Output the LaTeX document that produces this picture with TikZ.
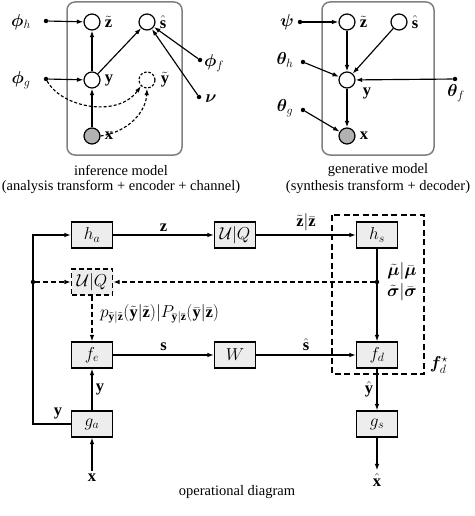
\documentclass[tikz,border=0pt]{standalone}
\usepackage{amsmath,amssymb,bm}
\usepackage{fontspec}
\setmainfont{Liberation Serif}
\usetikzlibrary{arrows.meta,calc}
\tikzset{
  var/.style={circle,draw,line width=1.2pt,minimum size=16pt,inner sep=0pt,fill=white},
  obs/.style={var,fill=black!30},
  dvar/.style={var,dash pattern=on 2.5pt off 1.8pt},
  plate/.style={draw=black!50,rounded corners=8pt,line width=1.5pt},
  dotn/.style={circle,fill,inner sep=0pt,minimum size=4.5pt},
  arr/.style={-{Latex[length=6.5pt,width=4.5pt]},line width=1.15pt},
  darr/.style={arr,dash pattern=on 5pt off 3pt},
  carr/.style={arr,dash pattern=on 3pt off 2pt},
  blk/.style={draw,fill=black!7,line width=1.15pt,minimum width=41pt,minimum height=26pt,inner sep=0pt},
  dblk/.style={blk,dash pattern=on 5pt off 3pt},
  lbl/.style={inner sep=1pt},
  smlbl/.style={inner sep=0pt,font=\fontsize{16}{18}\selectfont},
  captxt/.style={font=\fontsize{14.5}{17}\selectfont},
}
\begin{document}
\begin{tikzpicture}[x=1pt,y=-1pt,font=\fontsize{16.5}{19}\selectfont]
\path[use as bounding box,fill=white] (0,0) rectangle (474,516);

% ---------- inference model ----------
\draw[plate] (67,2) rectangle (182,155);
\node[var] (iz) at (92,22) {};
\node[var] (is) at (147,22) {};
\node[var] (iy) at (92,80) {};
\node[dvar] (iyt) at (147,80) {};
\node[obs] (ix) at (92,136) {};
\node[lbl,anchor=west] (izl) at ([xshift=3pt]iz.east) {$\tilde{\mathbf z}$};
\node[lbl,anchor=west] (isl) at ([xshift=3pt]is.east) {$\hat{\mathbf s}$};
\node[lbl,anchor=west] (iyl) at ([xshift=3pt]iy.east) {$\mathbf y$};
\node[lbl,anchor=west] (iytl) at ([xshift=4pt]iyt.east) {$\tilde{\mathbf y}$};
\node[lbl,anchor=west] (ixl) at ([xshift=3pt]ix.east) {$\mathbf x$};
\node (phih) at (21,22) {$\bm\phi_h$};
\node[dotn] (dph) at (46,21) {};
\node (phig) at (21,80) {$\bm\phi_g$};
\node[dotn] (dpg) at (46,79) {};
\node (phif) at (214,63) {$\bm\phi_f$};
\node[dotn] (dpf) at (200,60) {};
\node (nu) at (211,99) {$\bm\nu$};
\node[dotn] (dnu) at (199,97) {};
\draw[arr] (dph) -- (iz);
\draw[arr] (dpg) -- (iy);
\draw[arr] (ix) -- (iy);
\draw[arr] (iy) -- (iz);
\draw[arr] (iy) -- (is);
\draw[arr] (dpf) -- (is);
\draw[arr] (dnu) -- (is);
\draw[carr] (dpg) .. controls (62,108) and (118,118) .. (iyt.225);
\draw[carr] (ix.east) .. controls (128,132) and (146,112) .. (iyt.south);
\node[captxt] at (121,170) {inference model};
\node[captxt] at (121,187) {(analysis transform + encoder + channel)};

% ---------- generative model ----------
\draw[plate] (322,2) rectangle (434,155);
\node[var] (gz) at (347,22) {};
\node[var] (gsn) at (399,22) {};
\node[var] (gy) at (347,80) {};
\node[obs] (gx) at (347,136) {};
\node[lbl,anchor=west] (gzl) at ([xshift=3pt]gz.east) {$\tilde{\mathbf z}$};
\node[lbl,anchor=west] (gsl) at ([xshift=3pt]gsn.east) {$\hat{\mathbf s}$};
\node[lbl] (gyl) at (367,93) {$\mathbf y$};
\node[lbl,anchor=west] (gxl) at ([xshift=3pt]gx.east) {$\mathbf x$};
\node (psi) at (287,22) {$\bm\psi$};
\node[dotn] (dpsi) at (300,22) {};
\node (thh) at (285,60) {$\bm\theta_h$};
\node[dotn] (dth) at (303,62) {};
\node (thg) at (285,108) {$\bm\theta_g$};
\node[dotn] (dtg) at (303,110) {};
\node (thf) at (456,93) {$\bm\theta_f$};
\node[dotn] (dtf) at (455,79) {};
\draw[arr] (dpsi) -- (gz);
\draw[arr] (gz) -- (gy);
\draw[arr] (gsn) -- (gy);
\draw[arr] (dth) -- (gy);
\draw[arr] (dtf) -- (gy);
\draw[arr] (gy) -- (gx);
\draw[arr] (dtg) -- (gx);
\node[captxt] at (378,170) {generative model};
\node[captxt] at (378,187) {(synthesis transform + decoder)};

% ---------- operational diagram ----------
\draw[dash pattern=on 6pt off 3.5pt,line width=1.2pt] (332,215) rectangle (424,374);
\node (fdstar) at (439,365) {$\bm f_d^{\star}$};
\node[blk] (ha) at (92,235) {$h_a$};
\node[blk] (uq) at (235,235) {$\mathcal U|Q$};
\node[blk] (hs) at (377,235) {$h_s$};
\node[dblk] (uq2) at (92,282) {$\mathcal U|Q$};
\node[blk] (fe) at (92,355) {$f_e$};
\node[blk] (W) at (235,355) {$W$};
\node[blk] (fd) at (377,355) {$f_d$};
\node[blk] (ga) at (92,424) {$g_a$};
\node[blk] (gs) at (377,424) {$g_s$};
\node (xin) at (92,478) {$\mathbf x$};
\node (xout) at (377,480) {$\hat{\mathbf x}$};
\coordinate (L1) at (33,424);
\coordinate (L2) at (33,235);
\node[dotn] (Ld) at (33,282) {};
\node[dotn] (Rd) at (377,282) {};
\draw[arr] (ga.west) -- (L1) -- (L2) -- (ha.west);
\node[lbl] at (58,413) {$\mathbf y$};
\draw[darr] (Ld) -- (uq2.west);
\draw[darr] (Rd) -- (uq2.east);
\draw[darr] (uq2.south) -- (fe.north);
\node[lbl,anchor=west] at (99,314) {$p_{\tilde{\mathbf y}|\tilde{\mathbf z}}(\tilde{\mathbf y}|\tilde{\mathbf z})|P_{\bar{\mathbf y}|\bar{\mathbf z}}(\bar{\mathbf y}|\bar{\mathbf z})$};
\draw[arr] (ha) -- node[above] {$\mathbf z$} (uq);
\draw[arr] (uq) -- node[above] {$\tilde{\mathbf z}|\bar{\mathbf z}$} (hs);
\draw[arr] (hs) -- (fd);
\node[smlbl] (mu) at (402,271) {$\tilde{\bm\mu}|\bar{\bm\mu}$};
\node[smlbl] (sig) at (402,292) {$\tilde{\bm\sigma}|\bar{\bm\sigma}$};
\draw[arr] (fe) -- node[above] {$\mathbf s$} (W);
\draw[arr] (W) -- node[above] {$\hat{\mathbf s}$} (fd);
\draw[arr] (ga) -- node[right] {$\mathbf y$} (fe);
\draw[arr] (xin) -- (ga);
\draw[arr] (fd) -- node[left] {$\hat{\mathbf y}$} (gs);
\draw[arr] (gs) -- (xout);
\node[captxt] at (237,492) {operational diagram};
\end{tikzpicture}
\end{document}
